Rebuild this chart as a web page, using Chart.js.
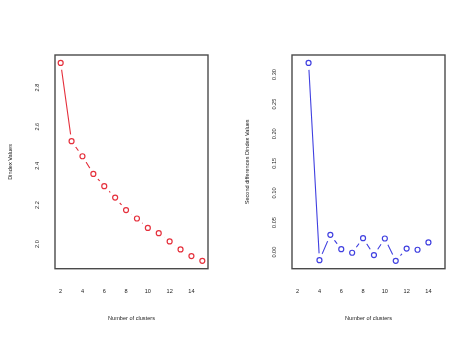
<!DOCTYPE html>
<html>
<head>
<meta charset="utf-8">
<script src="https://cdn.jsdelivr.net/npm/chart.js@4"></script>
<style>
  html, body { margin: 0; padding: 0; background: #fff; }
  .wrap { position: relative; width: 474px; height: 338px; }
  .panel { position: absolute; top: 0; width: 237px; height: 338px; }
</style>
</head>
<body>
<div class="wrap">
  <div class="panel" style="left:0"><canvas id="dindexChart"></canvas></div>
  <div class="panel" style="left:237px"><canvas id="diffChart"></canvas></div>
</div>
<script>
// Dindex values per number of clusters
const clusters = [2, 3, 4, 5, 6, 7, 8, 9, 10, 11, 12, 13, 14, 15];
const dindex = [2.926, 2.526, 2.449, 2.359, 2.296, 2.238, 2.174, 2.131, 2.083, 2.056, 2.014, 1.973, 1.939, 1.915];

// Second differences (defined for 3..14)
const diffClusters = [3, 4, 5, 6, 7, 8, 9, 10, 11, 12, 13, 14];
const secondDiff = [0.3196, -0.0135, 0.0292, 0.005, -0.001, 0.0236, -0.005, 0.023, -0.0146, 0.006, 0.004, 0.0164];

// tick labels
const xTicks = [2, 4, 6, 8, 10, 12, 14];
const dindexTicks = [2.0, 2.2, 2.4, 2.6, 2.8];
const diffTicks = [0.00, 0.05, 0.10, 0.15, 0.20, 0.25, 0.30];

const FONT = { family: 'Liberation Sans, Arial, sans-serif', size: 5.6 };
const TEXT = '#222';

// R style axis range: data range + 4% each side
function rRange(vals) {
    const lo = Math.min(...vals), hi = Math.max(...vals);
    const pad = (hi - lo) * 0.04;
    return [lo - pad, hi + pad];
}

const framePlugin = {
    id: 'frame',
    afterDraw(chart) {
        const { ctx, chartArea: a } = chart;
        ctx.save();
        ctx.strokeStyle = '#4a4a4a';
        ctx.lineWidth = 1.4;
        ctx.strokeRect(a.left, a.top, a.right - a.left, a.bottom - a.top);
        ctx.restore();
    }
};

function makeChart(id, xs, ys, color, yTicks, digits, yTitle, yPad) {
    const pts = xs.map((x, i) => ({ x, y: ys[i] }));
    const [xMin, xMax] = rRange(clusters);
    const [yMin, yMax] = rRange(ys);
    return new Chart(document.getElementById(id), {
        type: 'line',
        data: {
            datasets: [
                // markers
                { data: pts, showLine: false, pointStyle: 'circle', pointRadius: 2.5,
                  pointBorderWidth: 1.2, pointBorderColor: color, pointBackgroundColor: 'rgba(0,0,0,0)', order: 0 },
                // white halo to break the line around each marker (type = "b")
                { data: pts, showLine: false, pointRadius: 7, pointBorderWidth: 0,
                  pointBackgroundColor: '#fff', pointBorderColor: '#fff', order: 1 },
                // connecting line
                { data: pts, borderColor: color, borderWidth: 1.1, pointRadius: 0, tension: 0, order: 2 }
            ]
        },
        options: {
            responsive: false,
            animation: false,
            events: [],
            layout: { padding: { left: 0, top: 55, right: 29, bottom: 0 } },
            plugins: { legend: { display: false }, tooltip: { enabled: false } },
            scales: {
                x: {
                    type: 'linear', min: xMin, max: xMax,
                    grid: { display: false, drawTicks: false },
                    border: { display: false },
                    afterBuildTicks: s => { s.ticks = xTicks.map(v => ({ value: v })); },
                    afterFit: s => { s.height = 69.3; },
                    ticks: { font: FONT, color: TEXT, padding: 19.2, autoSkip: false, maxRotation: 0,
                             callback: v => String(v) },
                    title: { display: true, text: 'Number of clusters', font: FONT, color: TEXT,
                             padding: { top: 0, bottom: 16.3 } }
                },
                y: {
                    type: 'linear', min: yMin, max: yMax,
                    grid: { display: false, drawTicks: false },
                    border: { display: false },
                    afterBuildTicks: s => { s.ticks = yTicks.map(v => ({ value: v })); },
                    afterFit: s => { s.width = 55; },
                    ticks: { font: FONT, color: TEXT, padding: yPad, autoSkip: false,
                             minRotation: 90, maxRotation: 90, crossAlign: 'center',
                             callback: v => Number(v).toFixed(digits) },
                    title: { display: true, text: yTitle, font: FONT, color: TEXT,
                             padding: { top: 6.7, bottom: 0 } }
                }
            }
        },
        plugins: [framePlugin]
    });
}

function sizeCanvas(id) {
    const c = document.getElementById(id);
    c.width = 237; c.height = 338;
    c.style.width = '237px'; c.style.height = '338px';
}
sizeCanvas('dindexChart');
sizeCanvas('diffChart');

makeChart('dindexChart', clusters, dindex, '#e5303c', dindexTicks, 1, 'Dindex Values', 13.8);
makeChart('diffChart', diffClusters, secondDiff, '#4040e0', diffTicks, 2, 'Second differences Dindex Values', 12.2);
</script>
</body>
</html>
